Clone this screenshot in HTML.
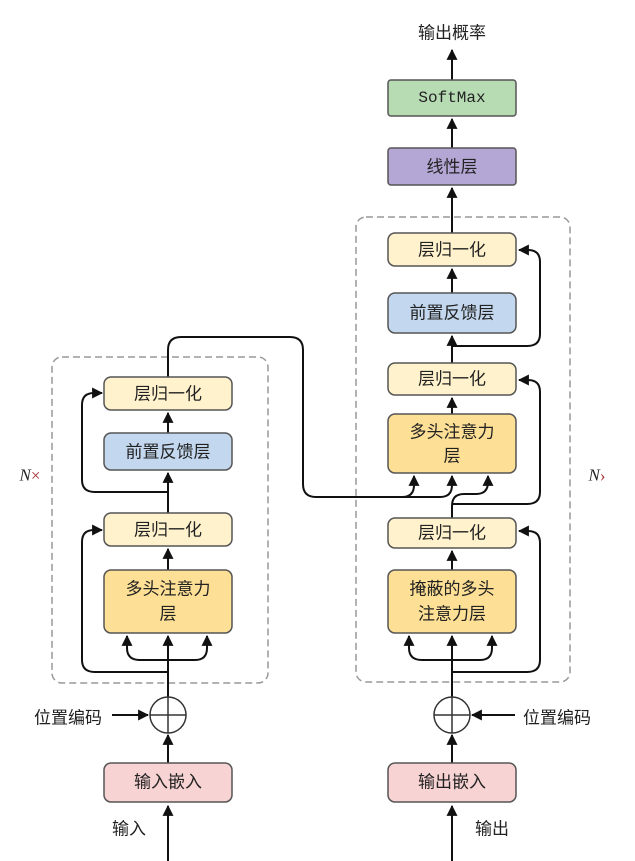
<!DOCTYPE html>
<html><head><meta charset="utf-8"><style>
body{margin:0;background:#fff}
svg{display:block}
text{font-family:"Liberation Sans","Noto Sans CJK SC",sans-serif;font-size:17px;fill:#222;text-anchor:middle;dominant-baseline:central}
.b{stroke:#555;stroke-width:1.5}
.l{stroke:#111;stroke-width:2;fill:none}
</style></head><body>
<svg width="635" height="861" viewBox="0 0 635 861">
<defs><marker id="a" viewBox="0 0 10 10" refX="9" refY="5" markerWidth="5.5" markerHeight="5.5" orient="auto"><path d="M0,0L10,5L0,10z" fill="#111"/></marker></defs>
<!-- dashed boxes -->
<rect x="52" y="357" width="216" height="326" rx="10" fill="none" stroke="#999" stroke-width="1.5" stroke-dasharray="7,4"/>
<rect x="356" y="217" width="214" height="465" rx="10" fill="none" stroke="#999" stroke-width="1.5" stroke-dasharray="7,4"/>
<text x="30" y="475" style="font-family:'Liberation Serif',serif;font-style:italic">N<tspan style="font-style:normal" fill="#a33">×</tspan></text>
<text x="597" y="475" style="font-family:'Liberation Serif',serif;font-style:italic">N<tspan style="font-style:normal" fill="#a33">›</tspan></text>
<!-- connectors left -->
<g class="l">
<path d="M168,861V806" marker-end="url(#a)"/>
<path d="M168,763V735" marker-end="url(#a)"/>
<path d="M112,715H148" marker-end="url(#a)"/>
<path d="M168,697V636" marker-end="url(#a)"/>
<path d="M168,660H140Q127,660 127,648V636" marker-end="url(#a)"/>
<path d="M168,660H195Q207,660 207,648V636" marker-end="url(#a)"/>
<path d="M168,672H95Q82,672 82,660V542Q82,530 94,530H102" marker-end="url(#a)"/>
<path d="M168,570V549" marker-end="url(#a)"/>
<path d="M168,513V473" marker-end="url(#a)"/>
<path d="M168,492H95Q82,492 82,480V405Q82,393 94,393H102" marker-end="url(#a)"/>
<path d="M168,433V413" marker-end="url(#a)"/>
<path d="M168,377V350Q168,337 181,337H290Q303,337 303,350V484Q303,497 316,497H402Q414,497 414,485V476" marker-end="url(#a)"/>
<path d="M400,497H440Q452,497 452,485V476" marker-end="url(#a)"/>
<!-- right -->
<path d="M452,861V806" marker-end="url(#a)"/>
<path d="M452,763V735" marker-end="url(#a)"/>
<path d="M515,715H472" marker-end="url(#a)"/>
<path d="M452,697V636" marker-end="url(#a)"/>
<path d="M452,660H422Q409,660 409,648V636" marker-end="url(#a)"/>
<path d="M452,660H480Q492,660 492,648V636" marker-end="url(#a)"/>
<path d="M452,672H527Q540,672 540,660V543Q540,531 528,531H519" marker-end="url(#a)"/>
<path d="M452,570V551" marker-end="url(#a)"/>
<path d="M452,518V506Q452,494 464,494H476Q488,494 488,482V476" marker-end="url(#a)"/>
<path d="M452,504H527Q540,504 540,492V392Q540,380 528,380H519" marker-end="url(#a)"/>
<path d="M452,414V398" marker-end="url(#a)"/>
<path d="M452,363V336" marker-end="url(#a)"/>
<path d="M452,346H527Q540,346 540,334V262Q540,250 528,250H519" marker-end="url(#a)"/>
<path d="M452,293V269" marker-end="url(#a)"/>
<path d="M452,233V188" marker-end="url(#a)"/>
<path d="M452,148V119" marker-end="url(#a)"/>
<path d="M452,80V50" marker-end="url(#a)"/>
</g>
<!-- circles -->
<g fill="#fff" stroke="#333" stroke-width="1.5">
<circle cx="168" cy="715" r="18"/><path d="M150,715H186M168,697V733"/>
<circle cx="452" cy="715" r="18"/><path d="M434,715H470M452,697V733"/>
</g>
<!-- boxes left -->
<rect class="b" x="104" y="377" width="128" height="33" rx="7" fill="#fff2cc"/><text x="168" y="394">层归一化</text>
<rect class="b" x="104" y="433" width="128" height="37" rx="7" fill="#c3d8ee"/><text x="168" y="452">前置反馈层</text>
<rect class="b" x="104" y="513" width="128" height="33" rx="7" fill="#fff2cc"/><text x="168" y="530">层归一化</text>
<rect class="b" x="104" y="570" width="128" height="63" rx="7" fill="#fddf95"/><text x="168" y="589">多头注意力</text><text x="168" y="614">层</text>
<rect class="b" x="104" y="763" width="128" height="39" rx="7" fill="#f8d3d3"/><text x="168" y="782">输入嵌入</text>
<!-- boxes right -->
<rect class="b" x="388" y="80" width="128" height="36" rx="3" fill="#b7dcb4"/><text x="452" y="98" style="font-family:'Liberation Mono',monospace;font-size:16px">SoftMax</text>
<rect class="b" x="388" y="148" width="128" height="37" rx="3" fill="#b4a7d6"/><text x="452" y="167">线性层</text>
<rect class="b" x="388" y="233" width="128" height="33" rx="7" fill="#fff2cc"/><text x="452" y="250">层归一化</text>
<rect class="b" x="388" y="293" width="128" height="40" rx="7" fill="#c3d8ee"/><text x="452" y="313">前置反馈层</text>
<rect class="b" x="388" y="363" width="128" height="32" rx="7" fill="#fff2cc"/><text x="452" y="379">层归一化</text>
<rect class="b" x="388" y="414" width="128" height="59" rx="7" fill="#fddf95"/><text x="452" y="432">多头注意力</text><text x="452" y="456">层</text>
<rect class="b" x="388" y="518" width="128" height="30" rx="7" fill="#fff2cc"/><text x="452" y="533">层归一化</text>
<rect class="b" x="388" y="570" width="128" height="63" rx="7" fill="#fddf95"/><text x="452" y="589">掩蔽的多头</text><text x="452" y="614">注意力层</text>
<rect class="b" x="388" y="763" width="128" height="39" rx="7" fill="#f8d3d3"/><text x="452" y="782">输出嵌入</text>
<!-- labels -->
<text x="452" y="33">输出概率</text>
<text x="68" y="718">位置编码</text>
<text x="557" y="718">位置编码</text>
<text x="129" y="829">输入</text>
<text x="492" y="829">输出</text>
</svg>
</body></html>
